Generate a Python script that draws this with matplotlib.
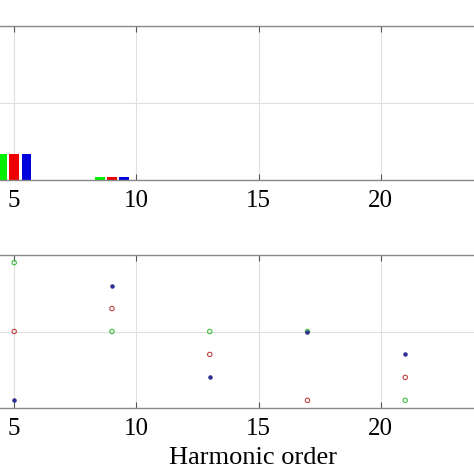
import matplotlib
matplotlib.use("Agg")
import matplotlib.pyplot as plt
import numpy as np

orders = [5, 9, 13, 17, 21]
mag_a = [3.4, 0.4, 0.05, 0.05, 0.05]
mag_b = [3.4, 0.4, 0.05, 0.05, 0.05]
mag_c = [3.4, 0.4, 0.05, 0.05, 0.05]
ph_a = [0.9, 0.0, 0.0, 0.0, -0.9]
ph_b = [0.0, 0.3, -0.3, -0.9, -0.6]
ph_c = [-0.9, 0.6, -0.6, 0.0, -0.3]

plt.rcParams['font.family'] = ['Liberation Serif']
fig = plt.figure(figsize=(4.74, 4.74), dpi=100)
W = 474.0
left = -108 / W
width = 611 / W
ax1 = fig.add_axes([left, 1 - 180 / W, width, 154 / W])
ax2 = fig.add_axes([left, 1 - 408 / W, width, 153 / W])

x = np.array(orders, dtype=float)
bw = 0.4
ax1.bar(x - 0.5, mag_a, bw, color='#00ee00')
ax1.bar(x, mag_b, bw, color='#ee0000')
ax1.bar(x + 0.5, mag_c, bw, color='#0000dd')
ax1.set_ylim(0, 20)
ax1.set_yticks([0, 10, 20])

ax2.scatter(orders, ph_a, s=10, facecolors='none', edgecolors='#40c040', linewidths=0.8, zorder=3)
ax2.scatter(orders, ph_b, s=10, facecolors='none', edgecolors='#c04040', linewidths=0.8, zorder=3)
ax2.scatter(orders, ph_c, s=5, color='#303090', zorder=3)
ax2.set_ylim(-1, 1)
ax2.set_yticks([-1, 0, 1])
fig.text(253 / W, 1 - 458 / W, 'Harmonic order', fontsize=19, ha='center', va='center')

for ax in (ax1, ax2):
    ax.set_xlim(0, 25)
    ax.set_xticks([5, 10, 15, 20])
    ax.grid(True, color='#e0e0e0', linewidth=0.8)
    ax.set_axisbelow(True)
    ax.tick_params(direction='in', labelsize=18, color='#555555', length=4, pad=7)
    ax.tick_params(axis='x', top=True)
    ax.tick_params(axis='y', labelleft=False)
    for s in ax.spines.values():
        s.set_color('#888888')
        s.set_linewidth(1)

fig.savefig('out.png', dpi=100)
